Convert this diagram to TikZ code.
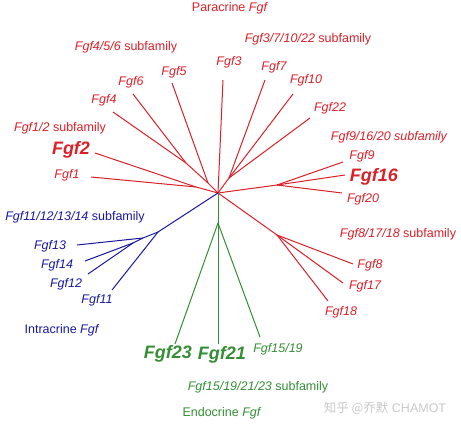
\documentclass[tikz,border=0pt]{standalone}
\usepackage{fontspec}
\setmainfont{Liberation Sans}
\newfontfamily\cjkfont{Noto Sans CJK SC}
\definecolor{parared}{RGB}{218,32,40}
\definecolor{intrablue}{RGB}{24,24,160}
\definecolor{endogreen}{RGB}{52,142,52}
\definecolor{markgray}{RGB}{200,200,200}
\begin{document}
\begin{tikzpicture}[x=1pt,y=-1pt,
	lab/.style={font=\fontsize{12.5}{14}\selectfont\itshape},
	big/.style={font=\fontsize{18}{20}\selectfont\bfseries\itshape},
	br/.style={line width=1pt}]
	\useasboundingbox (0,0) rectangle (461,428);
	% Diem giua va cac nut nhanh
	\coordinate (hub) at (218,193);
	\coordinate (j12) at (196,187);
	\coordinate (j46) at (186,163);
	\coordinate (j5) at (208,183);
	\coordinate (j3) at (229,178);
	\coordinate (j9) at (277,185);
	\coordinate (j8) at (277,235);
	\coordinate (jg) at (218,223);
	\coordinate (jb) at (158,232);
	\coordinate (jb2) at (143,238);
	\coordinate (jb3) at (133,243);
	% Dau mut cac nhanh
	\coordinate (e1) at (91,177);
	\coordinate (e2) at (95,153);
	\coordinate (e4) at (113,112);
	\coordinate (e6) at (133,94);
	\coordinate (e5) at (172,83);
	\coordinate (e3) at (223,80);
	\coordinate (e7) at (265,80);
	\coordinate (e10) at (293,94);
	\coordinate (e22) at (310,118);
	\coordinate (e9) at (343,162);
	\coordinate (e16) at (345,175);
	\coordinate (e20) at (342,193);
	\coordinate (e8) at (353,264);
	\coordinate (e17) at (343,283);
	\coordinate (e18) at (328,301);
	\coordinate (e23) at (175,344);
	\coordinate (e21) at (218,344);
	\coordinate (e15) at (260,337);
	\coordinate (e11) at (112,290);
	\coordinate (e13) at (77,245);
	\coordinate (e14) at (85,261);
	\coordinate (e12) at (88,274);
	% Nhanh paracrine
	\foreach \a/\b in {hub/j12,j12/e1,j12/e2,hub/j5,j5/j46,j5/e5,j46/e4,j46/e6,
		hub/e3,hub/j3,j3/e7,j3/e10,j3/e22,hub/j9,j9/e9,j9/e16,j9/e20,
		hub/j8,j8/e8,j8/e17,j8/e18}
	\draw[br,parared] (\a) -- (\b);
	% Nhanh endocrine
	\foreach \a/\b in {hub/jg,jg/e23,jg/e21,jg/e15}
	\draw[br,endogreen] (\a) -- (\b);
	% Nhanh intracrine
	\foreach \a/\b in {hub/jb,jb/e11,jb/jb2,jb2/e13,jb2/jb3,jb3/e14,jb3/e12}
	\draw[br,intrablue] (\a) -- (\b);
	% Nhan do
	\node[lab,parared,font=\fontsize{12.5}{14}\selectfont] (para) at (230,8) {Paracrine \textit{Fgf}};
	\node[lab,parared] (sub456) at (126,47) {Fgf4/5/6 \textup{subfamily}};
	\node[lab,parared] (sub3) at (308,39) {Fgf3/7/10/22 \textup{subfamily}};
	\node[lab,parared] (sub12) at (60,128) {Fgf1/2 \textup{subfamily}};
	\node[lab,parared] (sub9) at (389,137) {Fgf9/16/20 subfamily};
	\node[lab,parared] (sub8) at (398,234) {Fgf8/17/18 \textup{subfamily}};
	\node[lab,parared] (fgf1) at (67,175) {Fgf1};
	\node[big,parared] (fgf2) at (71,150) {Fgf2};
	\node[lab,parared] (fgf4) at (104,100) {Fgf4};
	\node[lab,parared] (fgf6) at (131,82) {Fgf6};
	\node[lab,parared] (fgf5) at (174,72) {Fgf5};
	\node[lab,parared] (fgf3) at (229,62) {Fgf3};
	\node[lab,parared] (fgf7) at (274,67) {Fgf7};
	\node[lab,parared] (fgf10) at (306,80) {Fgf10};
	\node[lab,parared] (fgf22) at (330,108) {Fgf22};
	\node[lab,parared] (fgf9) at (362,156) {Fgf9};
	\node[big,parared] (fgf16) at (374,177) {Fgf16};
	\node[lab,parared] (fgf20) at (363,199) {Fgf20};
	\node[lab,parared] (fgf8) at (370,265) {Fgf8};
	\node[lab,parared] (fgf17) at (365,286) {Fgf17};
	\node[lab,parared] (fgf18) at (341,312) {Fgf18};
	% Nhan xanh duong
	\node[lab,intrablue] (sub11) at (75,217) {Fgf11/12/13/14 \textup{subfamily}};
	\node[lab,intrablue] (fgf13) at (50,246) {Fgf13};
	\node[lab,intrablue] (fgf14) at (57,265) {Fgf14};
	\node[lab,intrablue] (fgf12) at (66,284) {Fgf12};
	\node[lab,intrablue] (fgf11) at (97,300) {Fgf11};
	\node[lab,intrablue,font=\fontsize{12.5}{14}\selectfont] (intra) at (62,330) {Intracrine \textit{Fgf}};
	% Nhan xanh la
	\node[big,endogreen] (fgf23) at (168,354) {Fgf23};
	\node[big,endogreen] (fgf21) at (222,355) {Fgf21};
	\node[lab,endogreen] (fgf15) at (278,349) {Fgf15/19};
	\node[lab,endogreen] (sub15) at (258,387) {Fgf15/19/21/23 \textup{subfamily}};
	\node[lab,endogreen,font=\fontsize{12.5}{14}\selectfont] (endo) at (222,413) {Endocrine \textit{Fgf}};
	% Dau nuoc
	\node[markgray,font=\fontsize{12.5}{14}\selectfont] (mark) at (385,408) {{\cjkfont 知乎 @乔默} CHAMOT};
\end{tikzpicture}
\end{document}
